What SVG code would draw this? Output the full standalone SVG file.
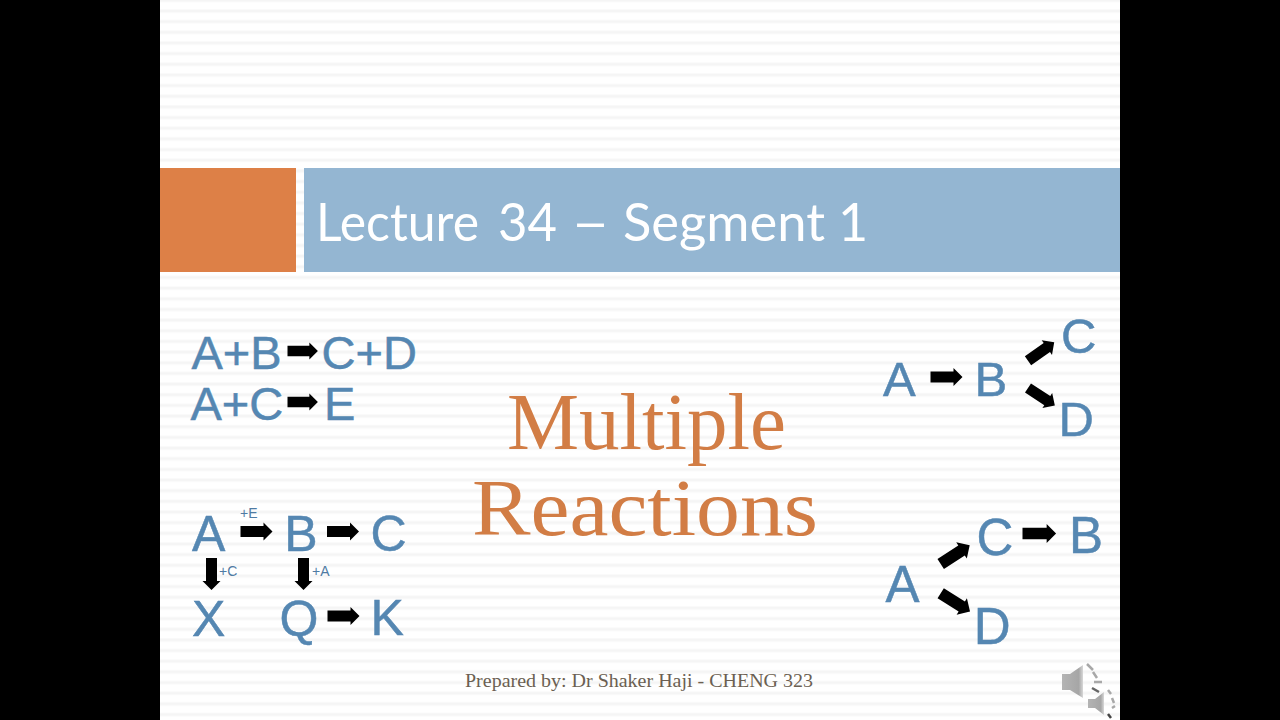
<svg xmlns="http://www.w3.org/2000/svg" xmlns:xlink="http://www.w3.org/1999/xlink" width="1280" height="720" viewBox="0 0 1280 720">
<style>
.n{font-family:"Liberation Sans",Arial,sans-serif;fill:#5587b2;stroke:#5587b2;stroke-width:.5}
.l{font-size:50px}.e{font-size:47px}.r{font-size:49px}.b{font-size:51px}
.s{font-family:"Liberation Sans",Arial,sans-serif;font-size:14px;fill:#4f7ba3}
.h{font-family:"Liberation Serif","DejaVu Serif",serif;font-size:80px;fill:#d27d45}
.t{font-family:Lato,"Noto Sans",sans-serif;font-size:52px;fill:#fff}
.f{font-family:"Liberation Serif",serif;font-size:18px;fill:#6b5f52}
.tick{stroke:#a8a8a8;stroke-width:2.5;fill:none;stroke-linecap:butt}
</style>
<defs>
<pattern id="stripes" x="0" y="-1.7" width="16" height="10.66" patternUnits="userSpaceOnUse">
<rect width="16" height="10.66" fill="#fff"/>
<rect y="0" width="16" height="4" fill="#fafafa"/>
<rect y="1" width="16" height="2" fill="#f5f5f5"/>
</pattern>
<path id="arrow" d="M0,-5.5H23V-9L32,0L23,9V5.5H0Z" fill="#000"/>
<linearGradient id="spk" x1="0" x2="1" y1="0" y2="0"><stop offset="0" stop-color="#b4b4b4"/><stop offset="0.8" stop-color="#a6a6a6"/><stop offset="1" stop-color="#d8d8d8"/></linearGradient>
</defs>
<rect width="1280" height="720" fill="#000"/>
<rect x="160" width="960" height="720" fill="url(#stripes)"/>
<g id="banner">
<rect x="160" y="168" width="136" height="104" fill="#dd8047"/>
<rect x="304" y="168" width="816" height="104" fill="#94b6d2"/>
<text class="t" y="241"><tspan x="316" textLength="163" lengthAdjust="spacingAndGlyphs">Lecture</tspan> <tspan x="498" textLength="59" lengthAdjust="spacingAndGlyphs">34</tspan> <tspan x="571" textLength="39" lengthAdjust="spacingAndGlyphs">–</tspan> <tspan x="623" textLength="202" lengthAdjust="spacingAndGlyphs">Segment</tspan> <tspan x="838">1</tspan></text>
</g>
<g id="heading">
<text class="h" x="507" y="449" textLength="279" lengthAdjust="spacingAndGlyphs">Multiple</text>
<text class="h" x="472" y="535" textLength="346" lengthAdjust="spacingAndGlyphs">Reactions</text>
</g>
<g id="footer"><text class="f" x="465" y="687" textLength="348" lengthAdjust="spacingAndGlyphs">Prepared by: Dr Shaker Haji - CHENG 323</text></g>
<g id="connectors">
<use xlink:href="#arrow" href="#arrow" transform="translate(287.5,351) scale(.95)"/>
<use xlink:href="#arrow" href="#arrow" transform="translate(287.5,402) scale(.95)"/>
<use xlink:href="#arrow" href="#arrow" transform="translate(240.5,531.5)"/>
<use xlink:href="#arrow" href="#arrow" transform="translate(327,531.5)"/>
<use xlink:href="#arrow" href="#arrow" transform="translate(327.5,616)"/>
<use xlink:href="#arrow" href="#arrow" transform="translate(211.5,558) rotate(90)"/>
<use xlink:href="#arrow" href="#arrow" transform="translate(303.5,558) rotate(90)"/>
<use xlink:href="#arrow" href="#arrow" transform="translate(930.5,377)"/>
<use xlink:href="#arrow" href="#arrow" transform="translate(1028,360.7) rotate(-35)"/>
<use xlink:href="#arrow" href="#arrow" transform="translate(1028,388) rotate(33)"/>
<use xlink:href="#arrow" href="#arrow" transform="translate(940.7,564) rotate(-33) scale(1.08)"/>
<use xlink:href="#arrow" href="#arrow" transform="translate(940.7,593.3) rotate(32) scale(1.08)"/>
<use xlink:href="#arrow" href="#arrow" transform="translate(1022.5,533.5) scale(1.05)"/>
</g>
<g id="eq1"><text class="n e" x="191.5" y="369">A+B</text><text class="n e" x="321.5" y="369">C+D</text></g>
<g id="eq2"><text class="n e" x="190.5" y="419.5">A+C</text><text class="n e" x="324" y="419.5">E</text></g>
<g id="scheme-left">
<text class="n l" x="192" y="550.5">A</text>
<text class="n l" x="284.3" y="550.5">B</text>
<text class="n l" x="370.5" y="550.5">C</text>
<text class="n l" x="192" y="636">X</text>
<text class="n l" x="279.5" y="636">Q</text>
<text class="n l" x="370.5" y="635">K</text>
<text class="s" x="240" y="518">+E</text>
<text class="s" x="219" y="576">+C</text>
<text class="s" x="312" y="576">+A</text>
</g>
<g id="scheme-right-top">
<text class="n r" x="883" y="396">A</text>
<text class="n r" x="974.5" y="396">B</text>
<text class="n r" x="1061" y="352.5">C</text>
<text class="n r" x="1058.5" y="436">D</text>
</g>
<g id="scheme-right-bottom">
<text class="n b" x="885.5" y="601.7">A</text>
<text class="n b" x="976.4" y="555">C</text>
<text class="n b" x="1069" y="553">B</text>
<text class="n b" x="973.7" y="644">D</text>
</g>
<g id="speaker-1">
<path d="M1062,674H1070L1083,665V698L1070,690H1062Z" fill="url(#spk)"/>
<path class="tick" d="M1087,664l6,6M1093,672l4,6M1094,682h8"/>
<path class="tick" d="M1092,688l7,4" style="stroke:#666"/>
</g>
<g id="speaker-2">
<path d="M1088,699H1095L1104,692V715L1095,708H1088Z" fill="url(#spk)"/>
<path class="tick" d="M1108,690l3,4M1112,698l2,5M1112,708l3,-2"/>
<path class="tick" d="M1108,714l3,4" style="stroke:#444"/>
</g>
</svg>
